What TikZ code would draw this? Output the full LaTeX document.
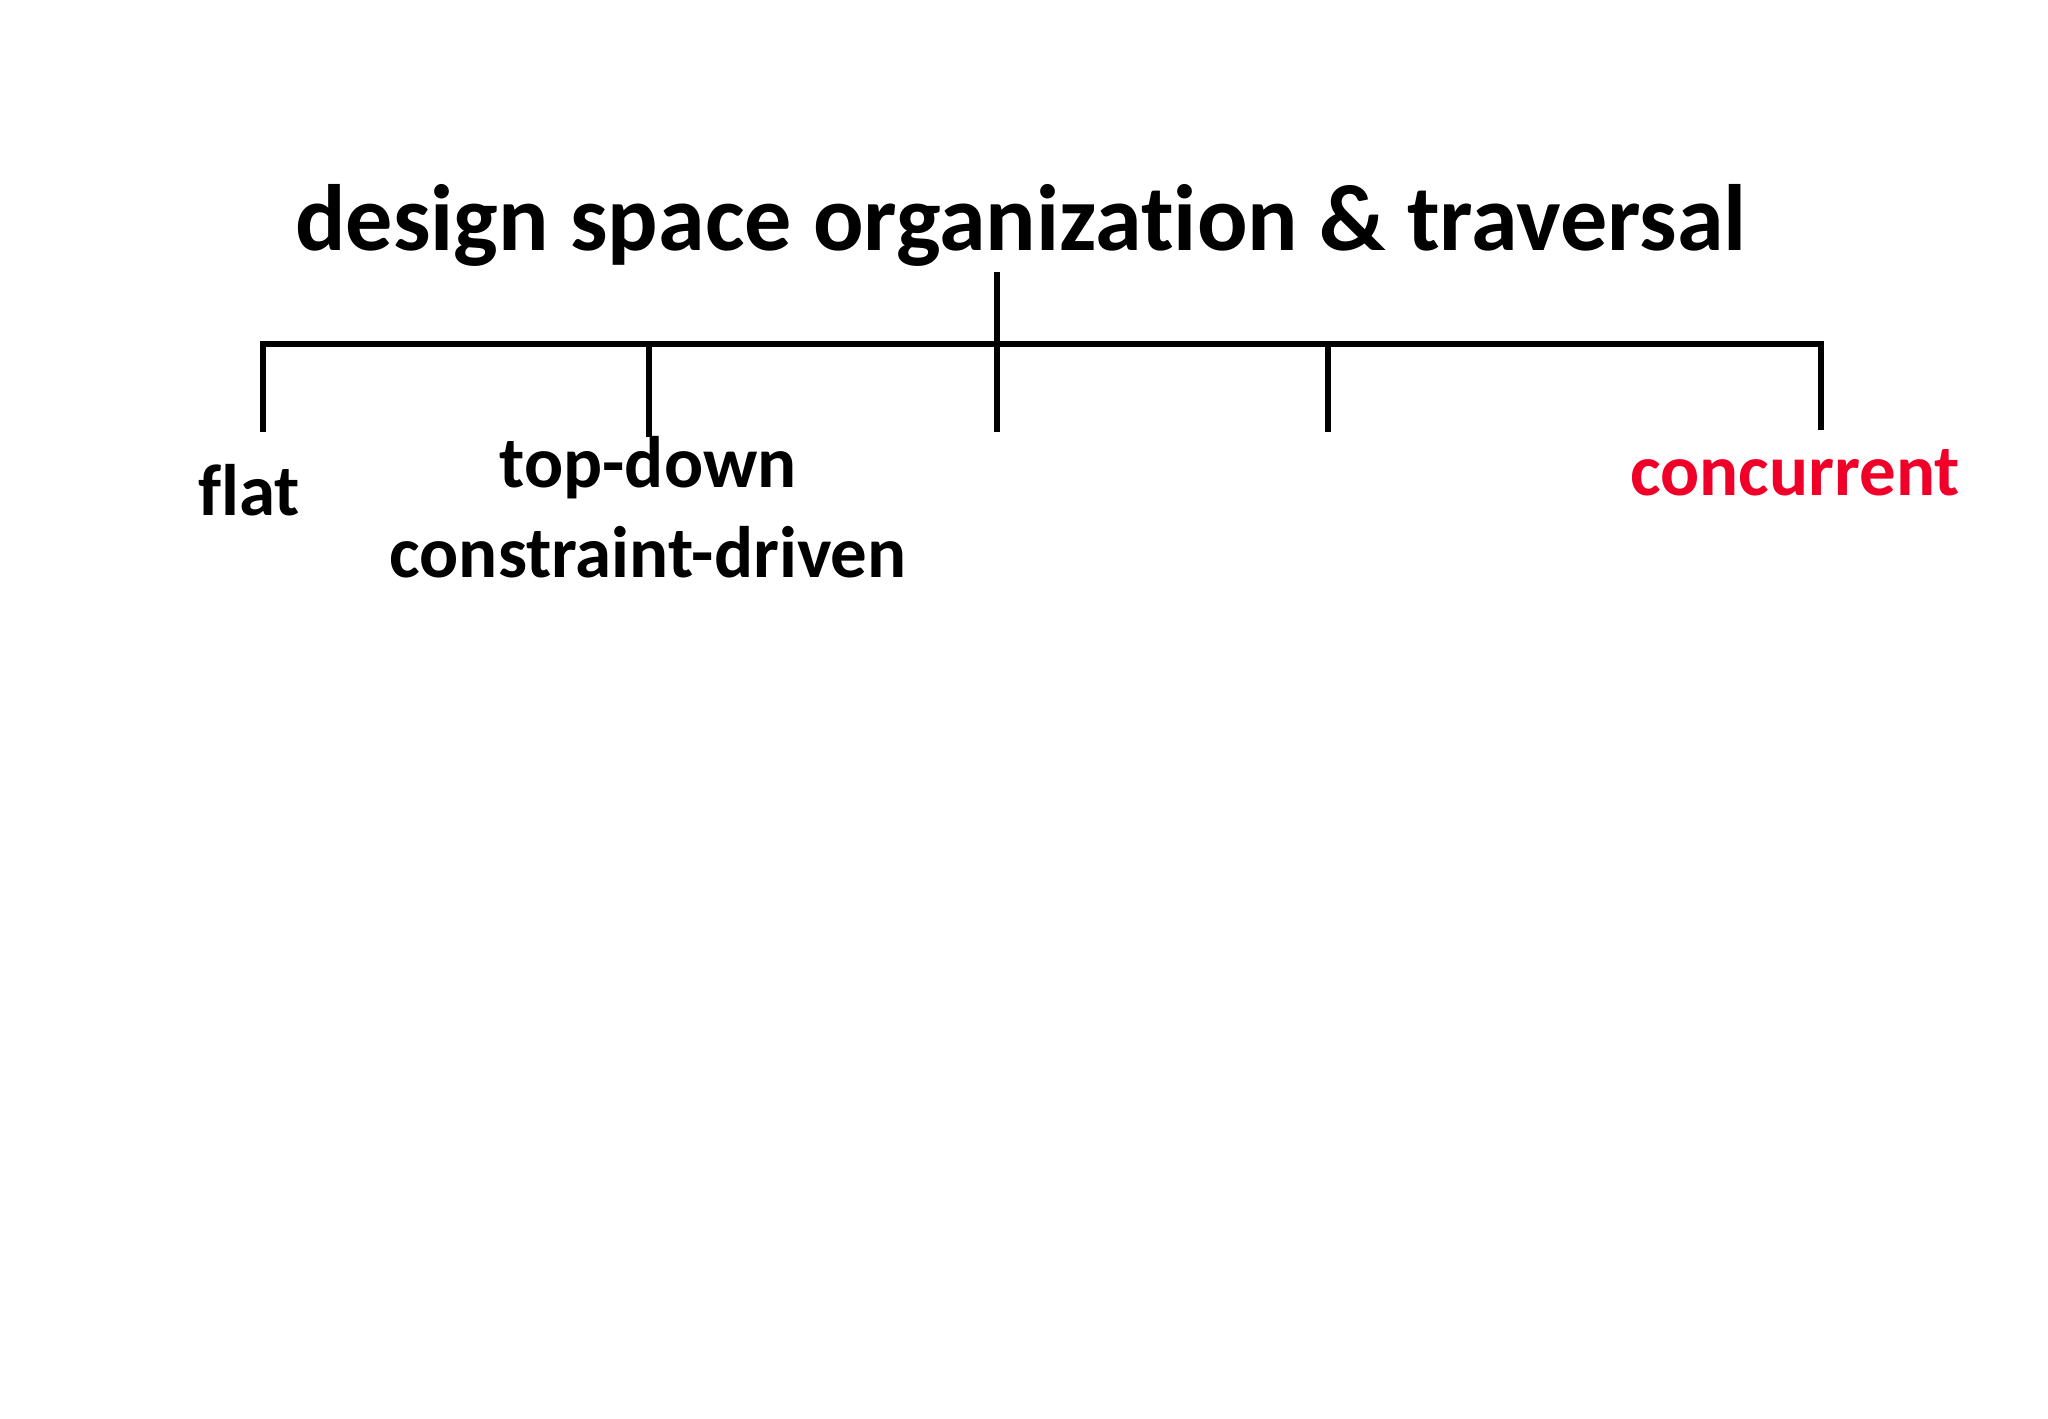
\documentclass[tikz,border=0pt]{standalone}
\usepackage{fontspec}
\setmainfont{Carlito}[Ligatures={NoCommon}]
\definecolor{hotred}{RGB}{240,0,40}
\tikzset{
	heading/.style = {font=\bfseries\fontsize{53.6}{60}\selectfont, anchor=base, inner sep=0},
	leaf/.style = {font=\bfseries\fontsize{41.5}{48}\selectfont, anchor=base, inner sep=0},
	branch/.style = {line width=3.6pt}
}
\begin{document}
\begin{tikzpicture}[x=0.02cm, y=-0.02cm]
		\useasboundingbox (0, 0) rectangle (2048, 1418);
		\node [heading] (title) at (1021, 250) {design space organization \& traversal};
		\coordinate (stem) at (997, 272);
		\coordinate (hub) at (997, 344);
		\coordinate (barleft) at (263, 344);
		\coordinate (barright) at (1821, 344);
		\coordinate (tickb) at (649, 344);
		\coordinate (tickd) at (1328, 344);
		\coordinate (enda) at (263, 432);
		\coordinate (endb) at (649, 437);
		\coordinate (endc) at (997, 432);
		\coordinate (endd) at (1328, 432);
		\coordinate (ende) at (1821, 430);
		\draw [branch] (stem) -- (endc);
		\draw [branch, line join=miter] (enda) -- (barleft) -- (barright) -- (ende);
		\draw [branch] (tickb) -- (endb);
		\draw [branch] (tickd) -- (endd);
		\node [leaf] (flat) at (249, 515) {flat};
		\node [leaf] (topdown) at (648, 487) {top-down};
		\node [leaf] (constraint) at (648, 577) {constraint-driven};
		\node [leaf, text=hotred] (concurrent) at (1795, 495) {concurrent};
	\end{tikzpicture}
\end{document}
